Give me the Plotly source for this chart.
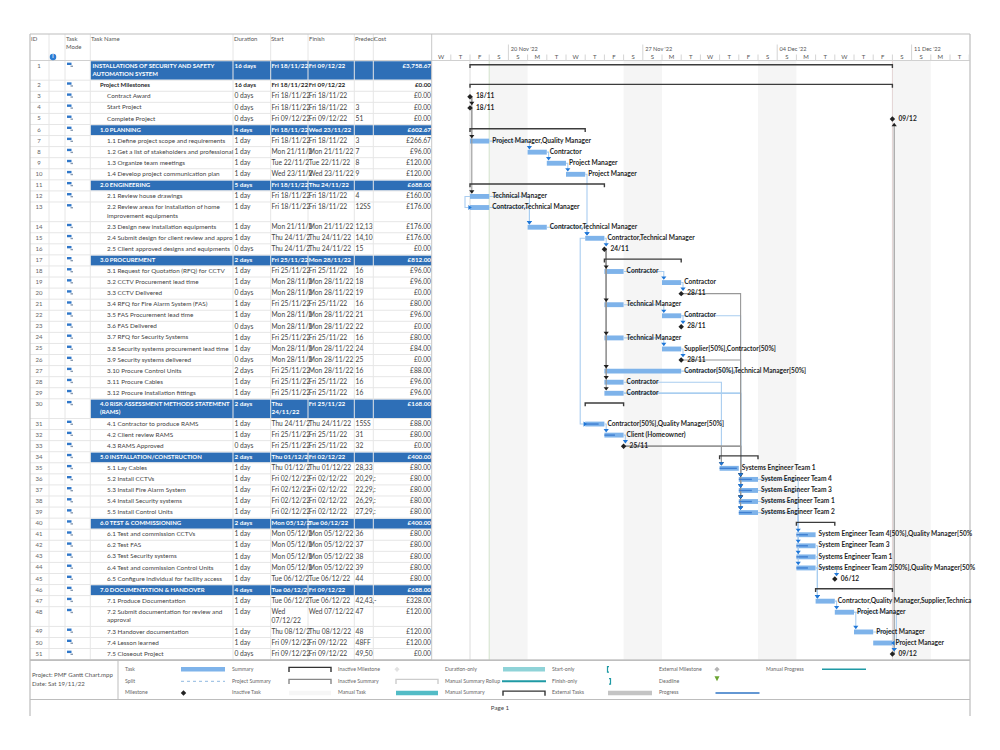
import pandas as pd
import plotly.graph_objects as go

# ---------- data ----------
ids = list(range(1, 52))
names = ["INSTALLATIONS OF SECURITY AND SAFETY<br>AUTOMATION SYSTEM", "Project Milestones", "Contract Award", "Start Project", "Complete Project",
 "1.0 PLANNING", "1.1 Define project scope and requirements", "1.2 Get a list of stakeholders and professional", "1.3 Organize team meetings", "1.4 Develop project communication plan",
 "2.0 ENGINEERING", "2.1 Review house drawings", "2.2 Review areas for installation of home<br>improvement equipments", "2.3 Design new installation equipments", "2.4 Submit design for client review and appro",
 "2.5 Client approved designs and equipments", "3.0 PROCUREMENT", "3.1 Request for Quotation (RFQ) for CCTV", "3.2 CCTV Procurement lead time", "3.3 CCTV Delivered",
 "3.4 RFQ for Fire Alarm System (FAS)", "3.5 FAS Procurement lead time", "3.6 FAS Delivered", "3.7 RFQ for Security Systems", "3.8 Security systems procurement lead time",
 "3.9 Security systems delivered", "3.10 Procure Control Units", "3.11 Procure Cables", "3.12 Procure Installation fittings", "4.0 RISK ASSESSMENT METHODS STATEMENT<br>(RAMS)",
 "4.1 Contractor to produce RAMS", "4.2 Client review RAMS", "4.3 RAMS Approved", "5.0 INSTALLATION/CONSTRUCTION", "5.1 Lay Cables",
 "5.2 Install CCTVs", "5.3 Install Fire Alarm System", "5.4 Install Security systems", "5.5 Install Control Units", "6.0 TEST & COMMISSIONING",
 "6.1 Test and commission CCTVs", "6.2 Test FAS", "6.3 Test Security systems", "6.4 Test and commission Control Units", "6.5 Configure individual for facility access",
 "7.0 DOCUMENTATION & HANDOVER", "7.1 Produce Documentation", "7.2 Submit documentation for review and<br>approval", "7.3 Handover documentation", "7.4 Lesson learned", "7.5 Closeout Project"]
durations = ["16 days","16 days","0 days","0 days","0 days","4 days","1 day","1 day","1 day","1 day","5 days","1 day","1 day","1 day","1 day","0 days","2 days","1 day","1 day","0 days","1 day","1 day","0 days","1 day","1 day","0 days","2 days","1 day","1 day","2 days","1 day","1 day","0 days","2 days","1 day","1 day","1 day","1 day","1 day","2 days","1 day","1 day","1 day","1 day","1 day","4 days","1 day","1 day","1 day","1 day","0 days"]
starts = ["11-18","11-18","11-18","11-18","12-09","11-18","11-18","11-21","11-22","11-23","11-18","11-18","11-18","11-21","11-24","11-24","11-25","11-25","11-28","11-28","11-25","11-28","11-28","11-25","11-28","11-28","11-25","11-25","11-25","11-24","11-24","11-25","11-25","12-01","12-01","12-02","12-02","12-02","12-02","12-05","12-05","12-05","12-05","12-05","12-06","12-06","12-06","12-07","12-08","12-09","12-09"]
finishes = ["12-09","12-09","11-18","11-18","12-09","11-23","11-18","11-21","11-22","11-23","11-24","11-18","11-18","11-21","11-24","11-24","11-28","11-25","11-28","11-28","11-25","11-28","11-28","11-25","11-28","11-28","11-28","11-25","11-25","11-25","11-24","11-25","11-25","12-02","12-01","12-02","12-02","12-02","12-02","12-06","12-05","12-05","12-05","12-05","12-06","12-09","12-06","12-07","12-08","12-09","12-09"]
preds_shown = ["","","","3","51","","3","7","8","9","","4","12SS","12,13","14,10","15","","16","18","19","16","21","22","16","24","25","16","16","16","","15SS","31","32","","28,33","20,29,:","22,29,:","26,29,:","27,29,:","","36","37","38","39","44","","42,43,-","47","48","48FF","49,50"]
costs = ["£3,758.67","£0.00","£0.00","£0.00","£0.00","£602.67","£266.67","£96.00","£120.00","£120.00","£688.00","£160.00","£176.00","£176.00","£176.00","£0.00","£812.00","£96.00","£96.00","£0.00","£80.00","£96.00","£0.00","£80.00","£84.00","£0.00","£88.00","£96.00","£96.00","£168.00","£88.00","£80.00","£0.00","£400.00","£80.00","£80.00","£80.00","£80.00","£80.00","£400.00","£80.00","£80.00","£80.00","£80.00","£80.00","£688.00","£328.00","£120.00","£120.00","£120.00","£0.00"]
blue_rows = [1, 6, 11, 17, 30, 34, 40, 46]
summary_rows = blue_rows + [2]
milestone_rows = [3, 4, 5, 16, 20, 23, 26, 33, 45, 51]
milestones_at_day_start = [3, 4]
resources = {7:"Project Manager,Quality Manager", 8:"Contractor", 9:"Project Manager", 10:"Project Manager", 12:"Technical Manager",
 13:"Contractor,Technical Manager", 14:"Contractor,Technical Manager", 15:"Contractor,Technical Manager", 18:"Contractor", 19:"Contractor",
 21:"Technical Manager", 22:"Contractor", 24:"Technical Manager", 25:"Supplier[50%],Contractor[50%]", 27:"Contractor[50%],Technical Manager[50%]",
 28:"Contractor", 29:"Contractor", 31:"Contractor[50%],Quality Manager[50%]", 32:"Client (Homeowner)", 35:"Systems Engineer Team 1",
 36:"System Engineer Team 4", 37:"System Engineer Team 3", 38:"Systems Engineer Team 1", 39:"Systems Engineer Team 2",
 41:"System Engineer Team 4[50%],Quality Manager[50%", 42:"System Engineer Team 3", 43:"Systems Engineer Team 1",
 44:"Systems Engineer Team 2[50%],Quality Manager[50%", 47:"Contractor,Quality Manager,Supplier,Technica",
 48:"Project Manager", 49:"Project Manager", 50:"Project Manager"}
progress = {31:0.7, 32:0.55, 35:0.9, 36:0.68, 37:0.68, 38:0.68, 39:0.68, 41:0.6, 42:0.6, 43:0.6, 44:0.6}
links = [(3,4,"FS"),(51,5,"FS"),(3,7,"FS"),(7,8,"FS"),(8,9,"FS"),(9,10,"FS"),(4,12,"FS"),(12,13,"SS"),(12,14,"FS"),(13,14,"FS"),
 (14,15,"FS"),(10,15,"FS"),(15,16,"FS"),(16,18,"FS"),(18,19,"FS"),(19,20,"FS"),(16,21,"FS"),(21,22,"FS"),(22,23,"FS"),(16,24,"FS"),
 (24,25,"FS"),(25,26,"FS"),(16,27,"FS"),(16,28,"FS"),(16,29,"FS"),(15,31,"SS"),(31,32,"FS"),(32,33,"FS"),(28,35,"FS"),(33,35,"FS"),
 (20,36,"FS"),(29,36,"FS"),(33,36,"FS"),(22,37,"FS"),(29,37,"FS"),(33,37,"FS"),(26,38,"FS"),(29,38,"FS"),(33,38,"FS"),(27,39,"FS"),
 (29,39,"FS"),(33,39,"FS"),(36,41,"FS"),(37,42,"FS"),(38,43,"FS"),(39,44,"FS"),(44,45,"FS"),(42,47,"FS"),(43,47,"FS"),(44,47,"FS"),
 (47,48,"FS"),(48,49,"FS"),(48,50,"FF"),(49,51,"FS"),(50,51,"FS")]
header_labels = ["ID", "Task<br>Mode", "Task Name", "Duration", "Start", "Finish", "Predeci", "Cost"]
weekday_letters = ["M", "T", "W", "T", "F", "S", "S"]
week_label_dates = ["2022-11-20", "2022-11-27", "2022-12-04", "2022-12-11"]
week_labels = ["20 Nov '22", "27 Nov '22", "04 Dec '22", "11 Dec '22"]
legend_col1 = ["Task", "Split", "Milestone"]
legend_col2 = ["Summary", "Project Summary", "Inactive Task"]
legend_col3 = ["Inactive Milestone", "Inactive Summary", "Manual Task"]
legend_col4 = ["Duration-only", "Manual Summary Rollup", "Manual Summary"]
legend_col5 = ["Start-only", "Finish-only", "External Tasks"]
legend_col6 = ["External Milestone", "Deadline", "Progress"]
legend_col7 = ["Manual Progress"]
project_lines = ["Project: PMF Gantt Chart.mpp", "Date: Sat 19/11/22"]

# ---------- layout scale ----------
W, H = 1000, 750
DAY_PX, ORIGIN_PX = 19.2, 470.0
ROW_PX, TOP_PX = 11.07, 60.5
FONT = "Lato"
TXT = "#444444"
NAME_SIZE = {False: 6.35, True: 6.0}
CELL_SIZE = {False: 6.7, True: 6.3}
BASE = pd.Timestamp("2022-11-18")

def d(md):
    return pd.Timestamp("2022-" + md)
def days(md):
    return (d(md) - BASE) / pd.Timedelta(days=1)
def iso(day_float):
    return (BASE + pd.Timedelta(days=float(day_float))).isoformat()
def pxd(px):
    return px / DAY_PX
def u(py):
    return (py - TOP_PX) / ROW_PX

# row geometry
row_h = [1.78 if i in (1, 13, 30, 48) else 1.0 for i in ids]
row_top = {}
cum = 0.0
for i, h in zip(ids, row_h):
    row_top[i] = cum
    cum += h
total_units = cum
row_y = {i: row_top[i] + 0.5 for i in ids}
row_h_map = dict(zip(ids, row_h))

bar_s = {i: days(s) for i, s in zip(ids, starts)}
bar_e = {i: days(f) + 1 for i, f in zip(ids, finishes)}
ms_x = {i: (bar_s[i] if i in milestones_at_day_start else bar_e[i]) for i in milestone_rows}
xstart = {i: ms_x.get(i, bar_s[i]) for i in ids}
xend = {i: ms_x.get(i, bar_e[i]) for i in ids}

fig = go.Figure()
shapes = []

def rect(x0, y0, x1, y1, fill, xref="x2", layer="below"):
    shapes.append(dict(type="rect", xref=xref, yref="y", x0=x0, x1=x1, y0=y0, y1=y1,
                       fillcolor=fill, line_width=0, layer=layer))
def hline(x0, x1, py, color, w=1):
    shapes.append(dict(type="line", xref="x2", yref="y", x0=x0, x1=x1, y0=u(py), y1=u(py),
                       line=dict(color=color, width=w), layer="below"))
def vline(px, p0, p1, color, w=1):
    shapes.append(dict(type="line", xref="x2", yref="y", x0=px, x1=px, y0=u(p0), y1=u(p1),
                       line=dict(color=color, width=w), layer="below"))

def text_trace(x, y, text, size=6.7, color=TXT, pos="middle right", bold=False, xaxis="x2"):
    fig.add_trace(go.Scatter(x=x, y=y, text=text, mode="text", textposition=pos, xaxis=xaxis, yaxis="y",
                             textfont=dict(family=FONT, size=size, color=color, weight=700 if bold else 400),
                             hoverinfo="skip", showlegend=False))

def line_trace(xs, ys, color, width, xaxis="x", dash=None):
    fig.add_trace(go.Scatter(x=xs, y=ys, mode="lines", xaxis=xaxis, yaxis="y", hoverinfo="skip", showlegend=False,
                             line=dict(color=color, width=width, dash=dash)))
def marker_trace(xs, ys, symbol, size, color, xaxis="x", line_color=None):
    fig.add_trace(go.Scatter(x=xs, y=ys, mode="markers", xaxis=xaxis, yaxis="y", hoverinfo="skip", showlegend=False,
                             marker=dict(symbol=symbol, size=size, color=color,
                                         line=dict(width=1 if line_color else 0, color=line_color or color))))

# ---------- gantt background ----------
GRID = "#e6e6e6"
FRAME = "#bdbdbd"
BODY_BOTTOM = TOP_PX + total_units * ROW_PX
sat = pd.date_range("2022-11-19", "2022-12-10", freq="7D")
for s in sat:
    shapes.append(dict(type="rect", xref="x", yref="y", x0=s.isoformat(), x1=(s + pd.Timedelta(days=2)).isoformat(),
                       y0=0, y1=total_units, fillcolor="#f5f5f5", line_width=0, layer="below"))
for day, col in ((0.0, "#dcdcdc"), (1.0, "#d3e3cb"), (22.0, "#e2d3d3")):
    shapes.append(dict(type="line", xref="x", yref="y", x0=iso(day), x1=iso(day), y0=0, y1=total_units,
                       line=dict(color=col, width=1), layer="below"))

# ---------- table background ----------
for i in blue_rows:
    rect(90.3, row_top[i] + 0.06, 431.5, row_top[i] + row_h_map[i] - 0.03, "#2e6fb7")
for i in ids:
    hline(30, 431.5, TOP_PX + (row_top[i] + row_h_map[i]) * ROW_PX, GRID)
for px in (49, 65, 90.3, 233, 270.7, 308, 354.3, 373.3):
    vline(px, 34, BODY_BOTTOM, GRID)
hline(30, 970, 60.5, "#d0d0d0")
vline(431.7, 34, BODY_BOTTOM, "#c8c8c8")

# frame and legend rules
hline(30, 970, 34, FRAME, 1.2)
hline(30, 970, BODY_BOTTOM + 0.5, "#a8a8a8", 1.2)
hline(30, 970, 699.5, FRAME, 1.2)
vline(30, 34, 716, FRAME, 1.2)
vline(970, 34, 716, FRAME, 1.2)
vline(118, BODY_BOTTOM, 699.5, FRAME, 1)

# timescale ticks
first_day, last_day = days("11-16"), days("12-14")
n = int(last_day - first_day)
tick_x, tick_y = [], []
for k in range(1, n + 1):
    dd = first_day + k
    top = 44.5 if (BASE + pd.Timedelta(days=dd)).dayofweek == 6 else 54.5
    tick_x += [iso(dd), iso(dd), None]
    tick_y += [u(top), u(60.5), None]
line_trace(tick_x, tick_y, "#d4d4d4", 1)
wk_days = [first_day + k for k in range(n)]
wk_mid = [iso(x + 0.5) for x in wk_days]
wk_txt = [weekday_letters[(BASE + pd.Timedelta(days=x)).dayofweek] for x in wk_days]
text_trace(wk_mid, [u(57.7)] * len(wk_mid), wk_txt, size=6, color="#555", pos="middle center", xaxis="x")
text_trace([(pd.Timestamp(x) + pd.Timedelta(hours=3)).isoformat() for x in week_label_dates],
           [u(49.6)] * 4, week_labels, size=5.6, color="#555", xaxis="x")

# ---------- gantt bars ----------
task_rows = [i for i in ids if i not in summary_rows and i not in milestone_rows]
MS_PER_DAY = 86400000
fig.add_trace(go.Bar(y=[row_y[i] for i in task_rows], x=[(bar_e[i] - bar_s[i]) * MS_PER_DAY for i in task_rows],
                     base=[iso(bar_s[i]) for i in task_rows], orientation="h", width=0.44, xaxis="x", yaxis="y",
                     marker=dict(color="#7eb3ea", line_width=0), hoverinfo="skip", showlegend=False))

# ---------- links ----------
GAP = pxd(1.8)
grouped = {"blue": ([], []), "grey": ([], [])}
arrows = {}
def add_arrow(kind, sym, x, y):
    arrows.setdefault((kind, sym), ([], []))
    arrows[(kind, sym)][0].append(iso(x))
    arrows[(kind, sym)][1].append(y)
for p, s, typ in links:
    kind = "grey" if p in milestone_rows else "blue"
    xs, ys = grouped[kind]
    yp, ysucc = row_y[p], row_y[s]
    if typ == "SS":
        hook = xstart[s] - pxd(5)
        pts = [(xstart[p], yp), (hook, yp), (hook, ysucc), (xstart[s] - pxd(1.5), ysucc)]
        add_arrow(kind, "triangle-right", xstart[s] - pxd(0.5), ysucc)
    elif typ == "FF":
        hook = xend[s] + pxd(4)
        pts = [(xend[p], yp), (hook, yp), (hook, ysucc), (xend[s] + pxd(1), ysucc)]
        add_arrow(kind, "triangle-left", xend[s] + pxd(1), ysucc)
    elif ysucc < yp:  # successor above
        px_ = xstart[s] + pxd(1.8)
        pts = [(xend[p], yp), (px_, yp), (px_, ysucc + 0.5)]
        add_arrow(kind, "triangle-up", px_, ysucc + 0.55)
    else:
        px_ = xstart[s] + GAP
        pts = [(xend[p], yp), (px_, yp), (px_, ysucc - 0.35)]
        add_arrow(kind, "triangle-down", px_, ysucc - 0.45)
    for a, b in pts:
        xs.append(iso(a)); ys.append(b)
    xs.append(None); ys.append(None)
line_trace(*grouped["blue"], "#a9cdf0", 1.1)
line_trace(*grouped["grey"], "#989898", 1.1)

# progress on top of bars
prog_x, prog_y = [], []
for i, f in progress.items():
    prog_x += [iso(bar_s[i]), iso(bar_s[i] + f * (bar_e[i] - bar_s[i])), None]
    prog_y += [row_y[i], row_y[i], None]
line_trace(prog_x, prog_y, "#3f7fd1", 1.4)

# arrow heads
for (kind, sym), (xs, ys) in arrows.items():
    marker_trace(xs, ys, sym, 4.5, "#1f1f1f" if kind == "grey" else "#1f77d8")

# summary brackets
sx, sy = [], []
for i in summary_rows:
    y0 = row_y[i] - 0.12
    sx += [iso(xstart[i]), iso(xstart[i]), iso(bar_e[i]), iso(bar_e[i]), None]
    sy += [y0 + 0.3, y0, y0, y0 + 0.3, None]
line_trace(sx, sy, "#3c3c3c", 1.4)

# milestones
marker_trace([iso(ms_x[i]) for i in milestone_rows], [row_y[i] for i in milestone_rows], "diamond", 4.2, "#222")

# bar labels
LBL = "#1f1f1f"
text_trace([iso(bar_e[i] + pxd(3)) for i in resources], [row_y[i] for i in resources], list(resources.values()),
           size=6.6, color=LBL, bold=True, xaxis="x")
text_trace([iso(ms_x[i] + pxd(6)) for i in milestone_rows], [row_y[i] for i in milestone_rows],
           [d(finishes[i - 1]).strftime("%d/%m") for i in milestone_rows], size=6.6, color=LBL, bold=True, xaxis="x")

# ---------- table text ----------
def date_text(md, wrap):
    t = d(md).strftime("%a %d/%m/%y")
    if wrap:
        return t.replace(" ", "<br>")
    return t if t.startswith("Fri") else t[:11]

def indent(i):
    if i == 1:
        return 92.5
    if i == 2:
        return 100
    if i in blue_rows:
        return 100
    return 107

plain = [i for i in ids if i not in summary_rows]
strong = [i for i in ids if i in summary_rows]
def col_color(i):
    return "#ffffff" if i in blue_rows else ("#1f1f1f" if i == 2 else TXT)
def first_y(i, txt):
    return row_top[i] + row_h_map[i] / 2 if "<br>" in txt else row_y[i]

text_trace([39] * 51, [row_y[i] for i in ids], [str(i) for i in ids], size=6, color="#666", pos="middle center")
for group, bold in ((plain, False), (strong, True)):
    col = [col_color(i) for i in group]
    nm = [names[i - 1] for i in group]
    cs = CELL_SIZE[bold]
    text_trace([indent(i) for i in group], [first_y(i, names[i - 1]) for i in group], nm, size=NAME_SIZE[bold], color=col, bold=bold)
    text_trace([234.5] * len(group), [row_y[i] for i in group], [durations[i - 1] for i in group], size=cs, color=col, bold=bold)
    st = [date_text(starts[i - 1], i in (30, 48)) for i in group]
    text_trace([271.5] * len(group), [first_y(i, t) for i, t in zip(group, st)], st, size=cs, color=col, bold=bold)
    text_trace([308.7] * len(group), [row_y[i] for i in group], [d(finishes[i - 1]).strftime("%a %d/%m/%y") for i in group], size=cs, color=col, bold=bold)
    text_trace([355.5] * len(group), [row_y[i] for i in group], [preds_shown[i - 1] for i in group], size=cs, color=col, bold=bold)
    text_trace([431] * len(group), [row_y[i] for i in group], [costs[i - 1] for i in group], size=cs, color=col, bold=bold, pos="middle left")

# task mode icons
ic_x, ic_y, ic2_x, ic2_y = [], [], [], []
for i in ids:
    ic_x += [67.0, 71.5, None]; ic_y += [row_y[i] - 0.2] * 2 + [None]
    ic2_x += [70.5, 73.0, None]; ic2_y += [row_y[i] + 0.02] * 2 + [None]
line_trace(ic_x, ic_y, "#2f77c9", 2.4, xaxis="x2")
line_trace(ic2_x, ic2_y, "#8a9bb0", 1.4, xaxis="x2")

# header
head_x = [31, 66, 91, 234, 271, 309, 355, 374]
head_txt_y = [39, 43.5, 39, 39, 39, 39, 39, 39]
text_trace(head_x, [u(v) for v in head_txt_y], header_labels, size=6.0, color="#555")
marker_trace([53], [u(57)], "circle", 6.5, "#2b7cd3", xaxis="x2")
text_trace([53], [u(57)], ["i"], size=5, color="#ffffff", pos="middle center", bold=True)

# ---------- legend ----------
L_ROWS = [669.3, 681.3, 693.0]
LY = [u(v) for v in L_ROWS]
LT = "#666"
for xpos, col in ((125, legend_col1), (232, legend_col2), (338, legend_col3), (445, legend_col4), (552, legend_col5), (659, legend_col6), (766, legend_col7)):
    text_trace([xpos] * len(col), LY[:len(col)], col, size=5.2, color=LT)
text_trace([32, 32], [u(675), u(684.5)], project_lines, size=6.1, color="#555")
text_trace([500], [u(708)], ["Page 1"], size=6.2, color="#444", pos="middle center")

def seg(x0, x1, row, color, width, dash=None):
    line_trace([x0, x1], [LY[row], LY[row]], color, width, xaxis="x2", dash=dash)
def bracket(x0, x1, row, color, w=1.4):
    y0 = LY[row] - 0.17
    line_trace([x0, x0, x1, x1], [y0 + 0.42, y0, y0, y0 + 0.42], color, w, xaxis="x2")

seg(181, 225, 0, "#7eb3ea", 4.5)
seg(181, 225, 1, "#8fb8e0", 1, dash="dot")
marker_trace([183.5], [LY[2]], "diamond", 4.2, "#222", xaxis="x2")
bracket(289, 331, 0, "#333")
bracket(289, 331, 1, "#888")
seg(289, 331, 2, "#f6f6f6", 4.5)
marker_trace([397], [LY[0]], "diamond", 4, "#e2e2e2", xaxis="x2")
bracket(396, 438, 1, "#cccccc")
seg(396, 438, 2, "#52bcc6", 4.5)
seg(503, 545, 0, "#8fd3d8", 4.5)
seg(502, 546, 1, "#1f9aa5", 2)
bracket(503, 545, 2, "#333")
line_trace([609, 607.5, 607.5, 609], [LY[0] - 0.25, LY[0] - 0.25, LY[0] + 0.25, LY[0] + 0.25], "#1f9aa5", 1.2, xaxis="x2")
line_trace([609, 610.5, 610.5, 609], [LY[1] - 0.25, LY[1] - 0.25, LY[1] + 0.25, LY[1] + 0.25], "#1f9aa5", 1.2, xaxis="x2")
seg(608, 652, 2, "#c4c4c4", 4.5)
marker_trace([717], [LY[0]], "diamond", 4, "#b5b5b5", xaxis="x2")
marker_trace([717], [LY[1]], "arrow-down", 5, "#6aa532", xaxis="x2")
seg(715.5, 759.5, 2, "#2f74c4", 1.5)
seg(822, 866, 0, "#1f9aa5", 1.5)

# ---------- axes ----------
fig.update_layout(
    width=W, height=H, margin=dict(l=0, r=0, t=0, b=0), paper_bgcolor="#ffffff", plot_bgcolor="#ffffff",
    shapes=shapes, showlegend=False, barmode="overlay", font=dict(family=FONT),
    xaxis=dict(type="date", range=[iso(-ORIGIN_PX / DAY_PX), iso((W - ORIGIN_PX) / DAY_PX)], visible=False, fixedrange=True, domain=[0, 1]),
    xaxis2=dict(range=[0, W], visible=False, fixedrange=True, overlaying="x", domain=[0, 1]),
    yaxis=dict(range=[u(H), u(0)], visible=False, fixedrange=True, domain=[0, 1]),
)
fig.write_html("out.html", post_script="document.body.style.margin='0';", config={"displayModeBar": False})
